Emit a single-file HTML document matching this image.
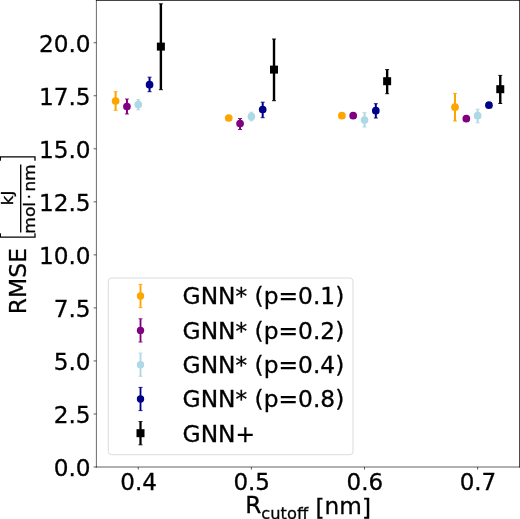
<!DOCTYPE html>
<html><head><meta charset="utf-8"><title>RMSE vs cutoff</title>
<style>html,body{margin:0;padding:0;background:#fff}svg{display:block}</style></head>
<body>
<svg width="520" height="519" viewBox="0 0 520 519" font-family='"DejaVu Sans", "Liberation Sans", sans-serif' font-size="23.0" fill="#000">
<style>text{stroke:#000;stroke-width:0.3px}</style>
<rect width="520" height="519" fill="#fff"/>
<g id="data">
<line x1="115.63" y1="91.70" x2="115.63" y2="110.30" stroke="#ffa500" stroke-width="2.0"/>
<line x1="113.63" y1="91.70" x2="117.63" y2="91.70" stroke="#ffa500" stroke-width="0.9"/>
<line x1="113.63" y1="110.30" x2="117.63" y2="110.30" stroke="#ffa500" stroke-width="0.9"/>
<circle cx="115.63" cy="101.00" r="3.85" fill="#ffa500"/>
<line x1="126.94" y1="99.00" x2="126.94" y2="114.00" stroke="#800080" stroke-width="2.0"/>
<line x1="124.94" y1="99.00" x2="128.94" y2="99.00" stroke="#800080" stroke-width="0.9"/>
<line x1="124.94" y1="114.00" x2="128.94" y2="114.00" stroke="#800080" stroke-width="0.9"/>
<circle cx="126.94" cy="106.50" r="3.85" fill="#800080"/>
<line x1="138.26" y1="99.60" x2="138.26" y2="109.80" stroke="#add8e6" stroke-width="2.0"/>
<line x1="136.26" y1="99.60" x2="140.26" y2="99.60" stroke="#add8e6" stroke-width="0.9"/>
<line x1="136.26" y1="109.80" x2="140.26" y2="109.80" stroke="#add8e6" stroke-width="0.9"/>
<circle cx="138.26" cy="104.60" r="3.85" fill="#add8e6"/>
<line x1="149.57" y1="77.20" x2="149.57" y2="91.70" stroke="#00008b" stroke-width="2.0"/>
<line x1="147.57" y1="77.20" x2="151.57" y2="77.20" stroke="#00008b" stroke-width="0.9"/>
<line x1="147.57" y1="91.70" x2="151.57" y2="91.70" stroke="#00008b" stroke-width="0.9"/>
<circle cx="149.57" cy="84.70" r="3.85" fill="#00008b"/>
<line x1="160.88" y1="3.80" x2="160.88" y2="89.70" stroke="#000000" stroke-width="2.4"/>
<line x1="158.88" y1="3.80" x2="162.88" y2="3.80" stroke="#000000" stroke-width="0.9"/>
<line x1="158.88" y1="89.70" x2="162.88" y2="89.70" stroke="#000000" stroke-width="0.9"/>
<rect x="156.88" y="42.60" width="8.0" height="8.0" fill="#000000"/>
<circle cx="228.76" cy="118.00" r="3.85" fill="#ffa500"/>
<line x1="240.07" y1="118.50" x2="240.07" y2="129.50" stroke="#800080" stroke-width="2.0"/>
<line x1="238.07" y1="118.50" x2="242.07" y2="118.50" stroke="#800080" stroke-width="0.9"/>
<line x1="238.07" y1="129.50" x2="242.07" y2="129.50" stroke="#800080" stroke-width="0.9"/>
<circle cx="240.07" cy="123.50" r="3.85" fill="#800080"/>
<line x1="251.39" y1="112.20" x2="251.39" y2="120.80" stroke="#add8e6" stroke-width="2.0"/>
<line x1="249.39" y1="112.20" x2="253.39" y2="112.20" stroke="#add8e6" stroke-width="0.9"/>
<line x1="249.39" y1="120.80" x2="253.39" y2="120.80" stroke="#add8e6" stroke-width="0.9"/>
<circle cx="251.39" cy="116.50" r="3.85" fill="#add8e6"/>
<line x1="262.70" y1="102.20" x2="262.70" y2="117.70" stroke="#00008b" stroke-width="2.0"/>
<line x1="260.70" y1="102.20" x2="264.70" y2="102.20" stroke="#00008b" stroke-width="0.9"/>
<line x1="260.70" y1="117.70" x2="264.70" y2="117.70" stroke="#00008b" stroke-width="0.9"/>
<circle cx="262.70" cy="109.50" r="3.85" fill="#00008b"/>
<line x1="274.01" y1="39.00" x2="274.01" y2="100.70" stroke="#000000" stroke-width="2.4"/>
<line x1="272.01" y1="39.00" x2="276.01" y2="39.00" stroke="#000000" stroke-width="0.9"/>
<line x1="272.01" y1="100.70" x2="276.01" y2="100.70" stroke="#000000" stroke-width="0.9"/>
<rect x="270.01" y="65.60" width="8.0" height="8.0" fill="#000000"/>
<circle cx="341.89" cy="115.70" r="3.85" fill="#ffa500"/>
<circle cx="353.20" cy="115.70" r="3.85" fill="#800080"/>
<line x1="364.51" y1="112.70" x2="364.51" y2="127.00" stroke="#add8e6" stroke-width="2.0"/>
<line x1="362.51" y1="112.70" x2="366.51" y2="112.70" stroke="#add8e6" stroke-width="0.9"/>
<line x1="362.51" y1="127.00" x2="366.51" y2="127.00" stroke="#add8e6" stroke-width="0.9"/>
<circle cx="364.51" cy="120.00" r="3.85" fill="#add8e6"/>
<line x1="375.83" y1="103.70" x2="375.83" y2="118.00" stroke="#00008b" stroke-width="2.0"/>
<line x1="373.83" y1="103.70" x2="377.83" y2="103.70" stroke="#00008b" stroke-width="0.9"/>
<line x1="373.83" y1="118.00" x2="377.83" y2="118.00" stroke="#00008b" stroke-width="0.9"/>
<circle cx="375.83" cy="110.70" r="3.85" fill="#00008b"/>
<line x1="387.14" y1="69.60" x2="387.14" y2="93.70" stroke="#000000" stroke-width="2.4"/>
<line x1="385.14" y1="69.60" x2="389.14" y2="69.60" stroke="#000000" stroke-width="0.9"/>
<line x1="385.14" y1="93.70" x2="389.14" y2="93.70" stroke="#000000" stroke-width="0.9"/>
<rect x="383.14" y="77.20" width="8.0" height="8.0" fill="#000000"/>
<line x1="455.02" y1="93.40" x2="455.02" y2="121.00" stroke="#ffa500" stroke-width="2.0"/>
<line x1="453.02" y1="93.40" x2="457.02" y2="93.40" stroke="#ffa500" stroke-width="0.9"/>
<line x1="453.02" y1="121.00" x2="457.02" y2="121.00" stroke="#ffa500" stroke-width="0.9"/>
<circle cx="455.02" cy="107.20" r="3.85" fill="#ffa500"/>
<circle cx="466.33" cy="118.70" r="3.85" fill="#800080"/>
<line x1="477.64" y1="109.20" x2="477.64" y2="122.80" stroke="#add8e6" stroke-width="2.0"/>
<line x1="475.64" y1="109.20" x2="479.64" y2="109.20" stroke="#add8e6" stroke-width="0.9"/>
<line x1="475.64" y1="122.80" x2="479.64" y2="122.80" stroke="#add8e6" stroke-width="0.9"/>
<circle cx="477.64" cy="115.70" r="3.85" fill="#add8e6"/>
<circle cx="488.96" cy="105.20" r="3.85" fill="#00008b"/>
<line x1="500.27" y1="75.40" x2="500.27" y2="103.50" stroke="#000000" stroke-width="2.4"/>
<line x1="498.27" y1="75.40" x2="502.27" y2="75.40" stroke="#000000" stroke-width="0.9"/>
<line x1="498.27" y1="103.50" x2="502.27" y2="103.50" stroke="#000000" stroke-width="0.9"/>
<rect x="496.27" y="85.20" width="8.0" height="8.0" fill="#000000"/>
</g>
<g stroke="#000" stroke-width="1" fill="none">
<line x1="95.9" y1="0.45" x2="520" y2="0.45" stroke-opacity="0.78"/>
<line x1="96.4" y1="0" x2="96.4" y2="467.5" stroke-opacity="0.58"/>
<line x1="95.9" y1="467.0" x2="520" y2="467.0" stroke-opacity="0.62"/>
<line x1="519.5" y1="0" x2="519.5" y2="467.5" stroke-opacity="0.7"/>
</g>
<g stroke="#000" stroke-opacity="0.7" stroke-width="0.9">
<line x1="138.26" y1="467.0" x2="138.26" y2="469.6"/>
<line x1="251.39" y1="467.0" x2="251.39" y2="469.6"/>
<line x1="364.51" y1="467.0" x2="364.51" y2="469.6"/>
<line x1="477.64" y1="467.0" x2="477.64" y2="469.6"/>
<line x1="96.4" y1="467.00" x2="93.60000000000001" y2="467.00"/>
<line x1="96.4" y1="413.97" x2="93.60000000000001" y2="413.97"/>
<line x1="96.4" y1="360.93" x2="93.60000000000001" y2="360.93"/>
<line x1="96.4" y1="307.90" x2="93.60000000000001" y2="307.90"/>
<line x1="96.4" y1="254.86" x2="93.60000000000001" y2="254.86"/>
<line x1="96.4" y1="201.83" x2="93.60000000000001" y2="201.83"/>
<line x1="96.4" y1="148.80" x2="93.60000000000001" y2="148.80"/>
<line x1="96.4" y1="95.76" x2="93.60000000000001" y2="95.76"/>
<line x1="96.4" y1="42.73" x2="93.60000000000001" y2="42.73"/>
</g>
<g text-anchor="middle">
<text transform="translate(138.56,489.80) scale(1.0,1)" text-anchor="middle">0.4</text>
<text transform="translate(251.69,489.80) scale(1.0,1)" text-anchor="middle">0.5</text>
<text transform="translate(364.81,489.80) scale(1.0,1)" text-anchor="middle">0.6</text>
<text transform="translate(477.94,489.80) scale(1.0,1)" text-anchor="middle">0.7</text>
</g>
<g text-anchor="end">
<text transform="translate(90.60,475.90) scale(1.01,1)" text-anchor="end">0.0</text>
<text transform="translate(90.60,422.87) scale(1.01,1)" text-anchor="end">2.5</text>
<text transform="translate(90.60,369.83) scale(1.01,1)" text-anchor="end">5.0</text>
<text transform="translate(90.60,316.80) scale(1.01,1)" text-anchor="end">7.5</text>
<text transform="translate(90.60,263.76) scale(1.01,1)" text-anchor="end">10.0</text>
<text transform="translate(90.60,210.73) scale(1.01,1)" text-anchor="end">12.5</text>
<text transform="translate(90.60,157.70) scale(1.01,1)" text-anchor="end">15.0</text>
<text transform="translate(90.60,104.66) scale(1.01,1)" text-anchor="end">17.5</text>
<text transform="translate(90.60,51.63) scale(1.01,1)" text-anchor="end">20.0</text>
</g>
<text transform="translate(245.20,513.00) scale(1.01,1)">R<tspan font-size="16.10" dy="5.9">cutoff</tspan><tspan dy="-3.4"> [</tspan><tspan dy="-1.5">nm</tspan><tspan dy="1.5">]</tspan></text>
<g transform="translate(26,314.2) rotate(-90)">
<text transform="translate(0.00,0.00) scale(1.02,1)">RMSE</text>
<path d="M80.90 -25.70 H77.10 V9.00 H80.90" fill="none" stroke="#000" stroke-width="1.3"/>
<path d="M153.50 -25.70 H157.30 V9.00 H153.50" fill="none" stroke="#000" stroke-width="1.3"/>
<line x1="81.80" y1="-5.30" x2="149.80" y2="-5.30" stroke="#000" stroke-width="1.35"/>
<text transform="translate(116.30,-13.10) scale(1.06,1)" font-size="15.62" text-anchor="middle">kJ</text>
<text transform="translate(80.50,9.10) scale(1.06,1)" font-size="16.10">mol</text>
<text transform="translate(117.40,9.10) scale(1.0,1)" font-size="16.10" text-anchor="middle">·</text>
<text transform="translate(149.70,9.10) scale(1.04,1)" font-size="16.10" text-anchor="end">nm</text>
</g>
<rect x="108.3" y="278.0" width="244.7" height="176.7" rx="3.2" fill="#fff" fill-opacity="0.8" stroke="#d2d2d2" stroke-opacity="0.8" stroke-width="1"/>
<line x1="140.50" y1="284.40" x2="140.50" y2="307.60" stroke="#ffa500" stroke-width="1.85"/>
<line x1="138.50" y1="284.40" x2="142.50" y2="284.40" stroke="#ffa500" stroke-width="0.9"/>
<line x1="138.50" y1="307.60" x2="142.50" y2="307.60" stroke="#ffa500" stroke-width="0.9"/>
<circle cx="140.50" cy="296.00" r="3.7" fill="#ffa500"/>
<text transform="translate(182.60,304.40) scale(1.014,1)">GNN* (p=0.1)</text>
<line x1="140.50" y1="318.80" x2="140.50" y2="342.00" stroke="#800080" stroke-width="1.85"/>
<line x1="138.50" y1="318.80" x2="142.50" y2="318.80" stroke="#800080" stroke-width="0.9"/>
<line x1="138.50" y1="342.00" x2="142.50" y2="342.00" stroke="#800080" stroke-width="0.9"/>
<circle cx="140.50" cy="330.40" r="3.7" fill="#800080"/>
<text transform="translate(182.60,338.80) scale(1.014,1)">GNN* (p=0.2)</text>
<line x1="140.50" y1="353.10" x2="140.50" y2="376.30" stroke="#add8e6" stroke-width="1.85"/>
<line x1="138.50" y1="353.10" x2="142.50" y2="353.10" stroke="#add8e6" stroke-width="0.9"/>
<line x1="138.50" y1="376.30" x2="142.50" y2="376.30" stroke="#add8e6" stroke-width="0.9"/>
<circle cx="140.50" cy="364.70" r="3.7" fill="#add8e6"/>
<text transform="translate(182.60,373.10) scale(1.014,1)">GNN* (p=0.4)</text>
<line x1="140.50" y1="387.40" x2="140.50" y2="410.60" stroke="#00008b" stroke-width="1.85"/>
<line x1="138.50" y1="387.40" x2="142.50" y2="387.40" stroke="#00008b" stroke-width="0.9"/>
<line x1="138.50" y1="410.60" x2="142.50" y2="410.60" stroke="#00008b" stroke-width="0.9"/>
<circle cx="140.50" cy="399.00" r="3.7" fill="#00008b"/>
<text transform="translate(182.60,407.40) scale(1.014,1)">GNN* (p=0.8)</text>
<line x1="140.50" y1="421.60" x2="140.50" y2="444.80" stroke="#000000" stroke-width="2.25"/>
<line x1="138.50" y1="421.60" x2="142.50" y2="421.60" stroke="#000000" stroke-width="0.9"/>
<line x1="138.50" y1="444.80" x2="142.50" y2="444.80" stroke="#000000" stroke-width="0.9"/>
<rect x="136.50" y="429.20" width="8.0" height="8.0" fill="#000000"/>
<text transform="translate(182.60,441.60) scale(1.014,1)">GNN+</text>
</svg>
</body></html>
